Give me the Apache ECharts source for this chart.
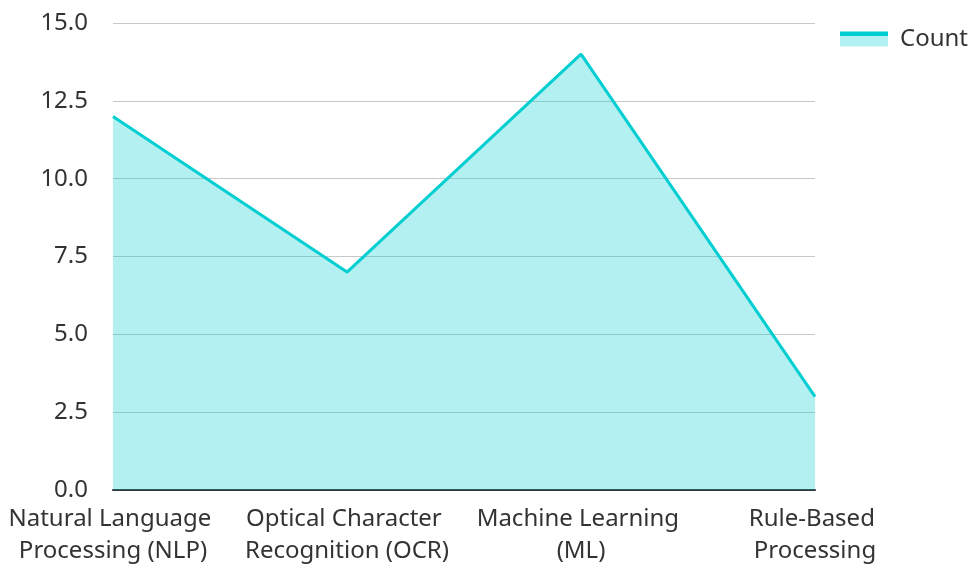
<!DOCTYPE html>
<html><head><meta charset="utf-8">
<script src="https://cdn.jsdelivr.net/npm/echarts@6/dist/echarts.min.js"></script>
<style>html,body{margin:0;padding:0;background:#fff}#c{width:972px;height:564px}</style>
</head><body><div id="c"></div>
<script>
const categories = ["Natural Language Processing (NLP)", "Optical Character Recognition (OCR)", "Machine Learning (ML)", "Rule-Based Processing"];
const counts = [12, 7, 14, 3];
const seriesName = "Count";
const chart = echarts.init(document.getElementById('c'));
chart.setOption({
  animation: false,
  textStyle: {fontFamily: 'Noto Sans'},
  legend: {
    data: [{name: seriesName, icon: 'rect'}], left: 835, top: 22, itemWidth: 48, itemHeight: 15, itemGap: 10,
    itemStyle: {
      color: {type: 'linear', x: 0, y: 0, x2: 0, y2: 1, colorStops: [
        {offset: 0, color: '#00CED1'}, {offset: 0.28, color: '#00CED1'},
        {offset: 0.28, color: '#b2f0f1'}, {offset: 1, color: '#b2f0f1'}]}
    },
    textStyle: {fontSize: 24, color: '#333', fontFamily: 'Noto Sans', padding: [0, 0, 0, 7]}
  },
  grid: {left: 113, right: 157, top: 23, bottom: 74, containLabel: false, outerBoundsMode: 'none'},
  xAxis: {
    type: 'category', data: categories, boundaryGap: false,
    axisLine: {lineStyle: {color: '#333', width: 2}},
    axisTick: {show: false},
    axisLabel: {interval: 0, fontSize: 24, color: '#333', lineHeight: 32, margin: 13, width: 225, overflow: 'break', fontFamily: 'Noto Sans'}
  },
  yAxis: {
    type: 'value', min: 0, max: 15, interval: 2.5,
    axisLine: {show: false}, axisTick: {show: false},
    splitLine: {lineStyle: {color: '#c8c8c8', width: 1}},
    axisLabel: {fontSize: 24, color: '#333', margin: 25, fontFamily: 'Noto Sans', formatter: v => v.toFixed(1)}
  },
  series: [{
    name: seriesName, type: 'line', data: counts, symbol: 'none',
    lineStyle: {color: '#00CED1', width: 3},
    itemStyle: {color: '#00CED1'},
    areaStyle: {color: '#00CED1', opacity: 0.3}
  }]
});
</script></body></html>
